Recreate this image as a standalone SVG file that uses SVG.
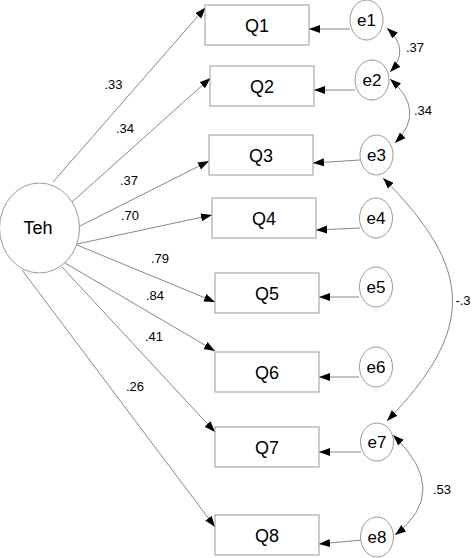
<svg xmlns="http://www.w3.org/2000/svg" width="474" height="558" viewBox="0 0 474 558">
<style>
.box{fill:#fff;stroke:#999;stroke-width:1}
.ell{fill:#fff;stroke:#999;stroke-width:1}
.ln{fill:none;stroke:#888;stroke-width:1}
.lbl{font-family:"Liberation Sans",Arial,sans-serif;font-size:18px;fill:#000;text-anchor:middle}
.elbl{font-family:"Liberation Sans",Arial,sans-serif;font-size:17px;fill:#000;text-anchor:middle}
.coef{font-family:"Liberation Sans",Arial,sans-serif;font-size:13px;fill:#000;text-anchor:middle}
</style>
<defs>
<marker id="ah" markerUnits="userSpaceOnUse" markerWidth="12" markerHeight="10" refX="11" refY="4" orient="auto-start-reverse" viewBox="0 0 12 8">
<path d="M0,0 L11,4 L0,8 Z" fill="#000"/>
</marker>
</defs>
<rect width="474" height="558" fill="#fff"/>
<g id="connectors">
<line class="ln" x1="53" y1="182" x2="205.5" y2="7.5" marker-end="url(#ah)"/>
<line class="ln" x1="72" y1="202" x2="210.5" y2="78" marker-end="url(#ah)"/>
<line class="ln" x1="78" y1="227" x2="209" y2="161" marker-end="url(#ah)"/>
<line class="ln" x1="77" y1="244" x2="212" y2="215" marker-end="url(#ah)"/>
<line class="ln" x1="77" y1="245" x2="215" y2="302" marker-end="url(#ah)"/>
<line class="ln" x1="65" y1="263" x2="215" y2="351" marker-end="url(#ah)"/>
<line class="ln" x1="62" y1="267" x2="215" y2="432" marker-end="url(#ah)"/>
<line class="ln" x1="22" y1="270" x2="215" y2="527" marker-end="url(#ah)"/>
<line class="ln" x1="350" y1="29" x2="309" y2="29" marker-end="url(#ah)"/>
<line class="ln" x1="355" y1="90" x2="314" y2="90" marker-end="url(#ah)"/>
<line class="ln" x1="360" y1="160" x2="313" y2="163" marker-end="url(#ah)"/>
<line class="ln" x1="360" y1="228" x2="316" y2="230" marker-end="url(#ah)"/>
<line class="ln" x1="359" y1="297" x2="319" y2="297" marker-end="url(#ah)"/>
<line class="ln" x1="359" y1="377" x2="319" y2="377" marker-end="url(#ah)"/>
<line class="ln" x1="361" y1="452" x2="319" y2="452" marker-end="url(#ah)"/>
<line class="ln" x1="362" y1="540" x2="319" y2="544" marker-end="url(#ah)"/>
<path class="ln" d="M387,28 Q411,50 390,72" marker-start="url(#ah)" marker-end="url(#ah)"/>
<path class="ln" d="M390,79 Q427,111 395,143" marker-start="url(#ah)" marker-end="url(#ah)"/>
<path class="ln" d="M383,178 C475,270 475,330 387,421" marker-start="url(#ah)" marker-end="url(#ah)"/>
<path class="ln" d="M393,435 Q452,491 395,535" marker-start="url(#ah)" marker-end="url(#ah)"/>
<text class="coef" x="113.5" y="89">.33</text>
<text class="coef" x="125" y="133">.34</text>
<text class="coef" x="129" y="185">.37</text>
<text class="coef" x="130" y="220">.70</text>
<text class="coef" x="160" y="263">.79</text>
<text class="coef" x="155" y="300">.84</text>
<text class="coef" x="154" y="341">.41</text>
<text class="coef" x="135" y="391">.26</text>
<text class="coef" x="415" y="52">.37</text>
<text class="coef" x="423" y="115">.34</text>
<text class="coef" x="442" y="494">.53</text>
<text class="coef" x="463" y="305" text-anchor="start">-.3</text>
</g>
<g id="Teh"><ellipse class="ell" cx="39.5" cy="228" rx="40" ry="45"/><text class="lbl" x="38" y="234">Teh</text></g>
<g id="Q1"><rect class="box" x="205" y="5" width="104" height="40"/><text class="lbl" x="257" y="31.5">Q1</text></g>
<g id="Q2"><rect class="box" x="210" y="66" width="104" height="40"/><text class="lbl" x="262" y="92.5">Q2</text></g>
<g id="Q3"><rect class="box" x="209" y="135" width="104" height="40"/><text class="lbl" x="261" y="161.5">Q3</text></g>
<g id="Q4"><rect class="box" x="212" y="198" width="104" height="40"/><text class="lbl" x="264" y="224.5">Q4</text></g>
<g id="Q5"><rect class="box" x="215" y="273" width="104" height="40"/><text class="lbl" x="267" y="299.5">Q5</text></g>
<g id="Q6"><rect class="box" x="215" y="352" width="104" height="40"/><text class="lbl" x="267" y="378.5">Q6</text></g>
<g id="Q7"><rect class="box" x="215" y="427" width="104" height="40"/><text class="lbl" x="267" y="453.5">Q7</text></g>
<g id="Q8"><rect class="box" x="215" y="515" width="104" height="40"/><text class="lbl" x="267" y="541.5">Q8</text></g>
<g id="e1"><ellipse class="ell" cx="366.5" cy="20" rx="16.5" ry="20"/><text class="elbl" x="366.5" y="26">e1</text></g>
<g id="e2"><ellipse class="ell" cx="372" cy="80" rx="17" ry="20"/><text class="elbl" x="372" y="86">e2</text></g>
<g id="e3"><ellipse class="ell" cx="376.5" cy="155" rx="16.5" ry="20"/><text class="elbl" x="376.5" y="161">e3</text></g>
<g id="e4"><ellipse class="ell" cx="376" cy="218" rx="16.5" ry="20"/><text class="elbl" x="376" y="224">e4</text></g>
<g id="e5"><ellipse class="ell" cx="376" cy="287" rx="16.5" ry="20"/><text class="elbl" x="376" y="293">e5</text></g>
<g id="e6"><ellipse class="ell" cx="376" cy="367" rx="16.5" ry="20"/><text class="elbl" x="376" y="373">e6</text></g>
<g id="e7"><ellipse class="ell" cx="377" cy="442" rx="16.5" ry="19"/><text class="elbl" x="377" y="448">e7</text></g>
<g id="e8"><ellipse class="ell" cx="377" cy="537" rx="16.5" ry="20"/><text class="elbl" x="377" y="543">e8</text></g>
</svg>
